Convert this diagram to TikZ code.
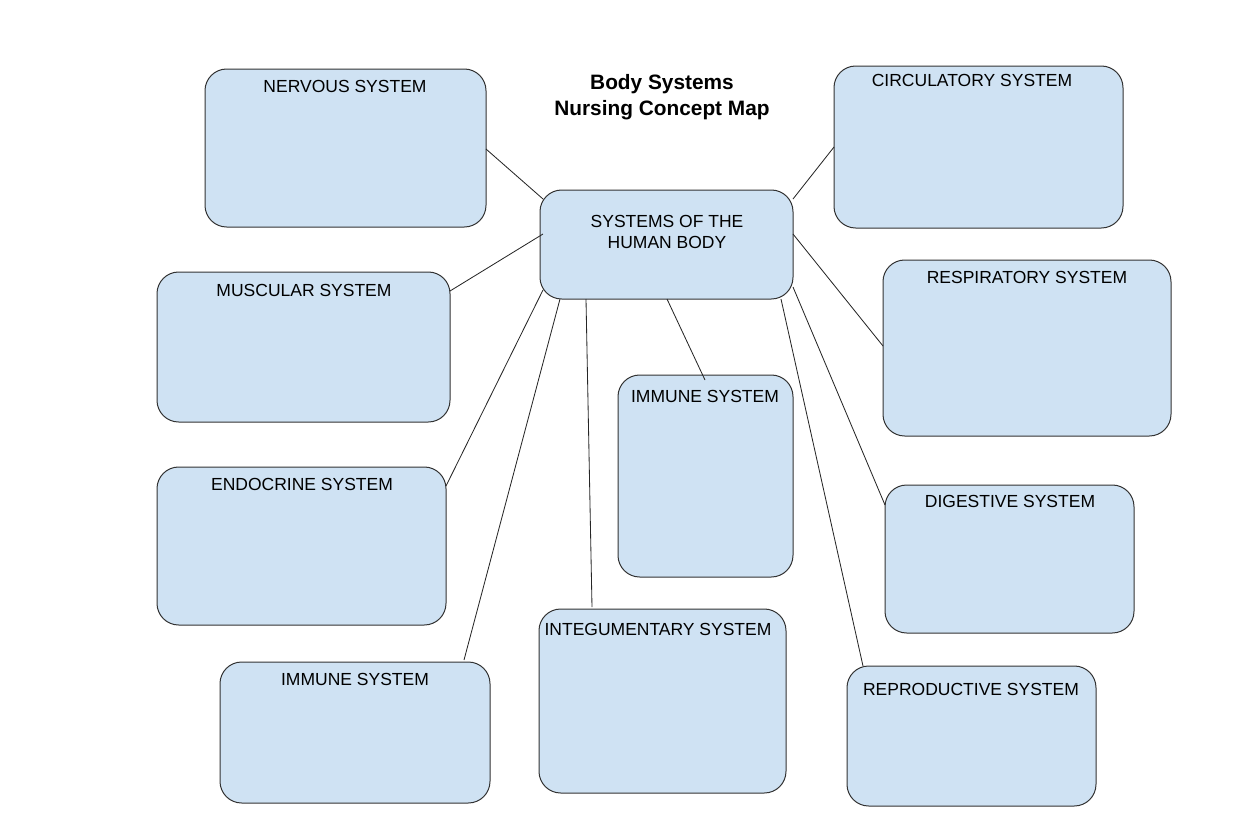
\documentclass[tikz,border=0pt]{standalone}
\usepackage{fontspec}
\setmainfont{Liberation Sans}
\begin{document}
\begin{tikzpicture}[x=0.6pt,y=-0.6pt,
  box/.style={draw=black!80,fill=boxblue,rounded corners=13pt,line width=0.6pt},
  lbl/.style={anchor=north,font=\fontsize{10.5pt}{12.5pt}\selectfont,inner sep=0pt,align=center},
  conn/.style={draw=black!85,line width=0.5pt}]
\definecolor{boxblue}{HTML}{CFE2F3}
\useasboundingbox (0,0) rectangle (1250,838);
\newcommand{\sysbox}[7]{%
  \draw[box] (#2,#3) rectangle (#4,#5);
  \node[lbl] (#1) at (#6,#7) {\phantom{X}};
}
% boxes
\draw[box] (205,69) rectangle (486,227);  \node[lbl] (nerv) at (345,80) {NERVOUS SYSTEM};
\draw[box] (834,66) rectangle (1123,228); \node[lbl] (circ) at (972,74) {CIRCULATORY SYSTEM};
\draw[box] (540,190) rectangle (793,299); \node[lbl] (ctr) at (667,215) {SYSTEMS OF THE\\HUMAN BODY};
\draw[box] (157,272) rectangle (450,422); \node[lbl] (musc) at (304,284) {MUSCULAR SYSTEM};
\draw[box] (883,260) rectangle (1171,436); \node[lbl] (resp) at (1027,271) {RESPIRATORY SYSTEM};
\draw[box] (618,375) rectangle (793,577); \node[lbl] (imm1) at (705,390) {IMMUNE SYSTEM};
\draw[box] (157,467) rectangle (446,625); \node[lbl] (endo) at (302,478) {ENDOCRINE SYSTEM};
\draw[box] (885,485) rectangle (1134,633); \node[lbl] (dige) at (1010,495) {DIGESTIVE SYSTEM};
\draw[box] (539,609) rectangle (786,793); \node[lbl] (inte) at (658,623) {INTEGUMENTARY SYSTEM};
\draw[box] (220,662) rectangle (490,803); \node[lbl] (imm2) at (355,673) {IMMUNE SYSTEM};
\draw[box] (847,666) rectangle (1096,806); \node[lbl] (repr) at (971,683) {REPRODUCTIVE SYSTEM};
\node[anchor=north,font=\bfseries\fontsize{12.5pt}{15.5pt}\selectfont,align=center,inner sep=0pt] (title) at (662,74) {Body Systems\\Nursing Concept Map};
% connector endpoints
\coordinate (a1) at (486,149); \coordinate (b1) at (543,199);
\coordinate (a2) at (834,147); \coordinate (b2) at (793,199);
\coordinate (a3) at (450,291); \coordinate (b3) at (543,234);
\coordinate (a4) at (883,346); \coordinate (b4) at (793,234);
\coordinate (a5) at (446,486); \coordinate (b5) at (543,290);
\coordinate (a6) at (464,660); \coordinate (b6) at (560,299);
\coordinate (a7) at (592,607); \coordinate (b7) at (586,299);
\coordinate (a8) at (705,380); \coordinate (b8) at (667,299);
\coordinate (a9) at (885,505); \coordinate (b9) at (793,287);
\coordinate (a10) at (863,666); \coordinate (b10) at (781,299);
\foreach \i in {1,...,10} {\draw[conn] (a\i) -- (b\i);}
\end{tikzpicture}
\end{document}
